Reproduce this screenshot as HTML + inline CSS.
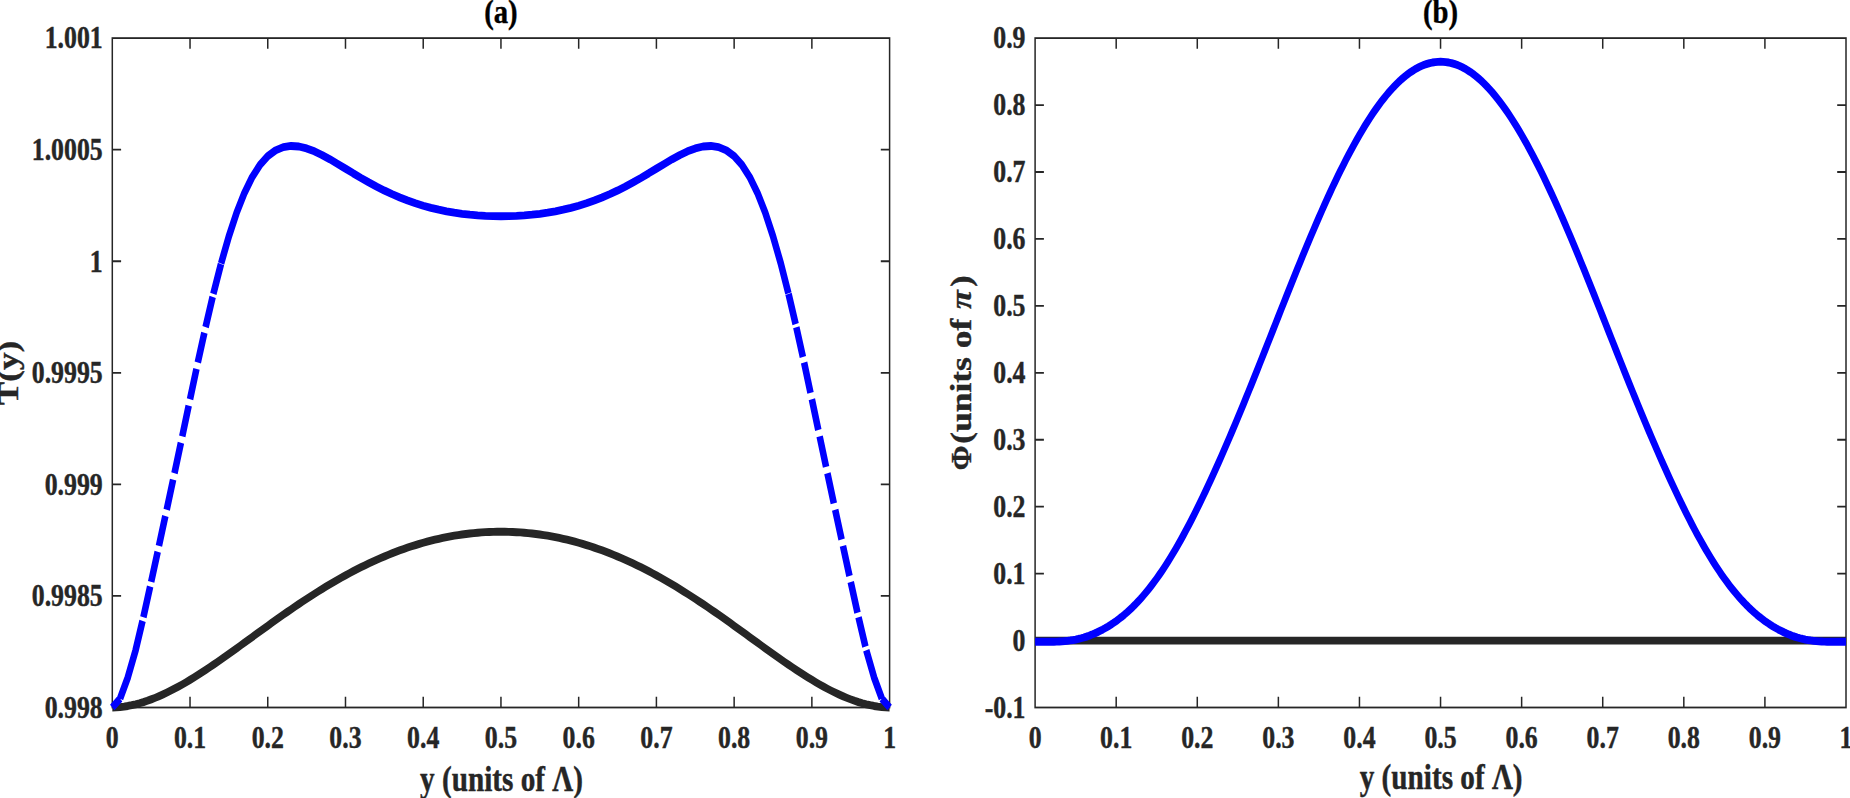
<!DOCTYPE html>
<html lang="en"><head><meta charset="utf-8"><title>Figure</title>
<style>html,body{margin:0;padding:0;background:#fff}svg{display:block}</style></head>
<body>
<svg width="1850" height="798" viewBox="0 0 1850 798" font-family='"Liberation Serif", "DejaVu Serif", serif' font-weight="bold">
<rect width="1850" height="798" fill="#fff"/>
<g transform="scale(1 1.2)">
<rect x="112.3" y="31.750" width="777.30" height="557.833" fill="none" stroke="#262626" stroke-width="1.5"/>
<text x="112.30" y="623.33" font-size="25.8" text-anchor="middle" fill="#262626" stroke="#262626" stroke-width="0.35">0</text>
<text x="190.03" y="623.33" font-size="25.8" text-anchor="middle" fill="#262626" stroke="#262626" stroke-width="0.35">0.1</text>
<text x="267.76" y="623.33" font-size="25.8" text-anchor="middle" fill="#262626" stroke="#262626" stroke-width="0.35">0.2</text>
<text x="345.49" y="623.33" font-size="25.8" text-anchor="middle" fill="#262626" stroke="#262626" stroke-width="0.35">0.3</text>
<text x="423.22" y="623.33" font-size="25.8" text-anchor="middle" fill="#262626" stroke="#262626" stroke-width="0.35">0.4</text>
<text x="500.95" y="623.33" font-size="25.8" text-anchor="middle" fill="#262626" stroke="#262626" stroke-width="0.35">0.5</text>
<text x="578.68" y="623.33" font-size="25.8" text-anchor="middle" fill="#262626" stroke="#262626" stroke-width="0.35">0.6</text>
<text x="656.41" y="623.33" font-size="25.8" text-anchor="middle" fill="#262626" stroke="#262626" stroke-width="0.35">0.7</text>
<text x="734.14" y="623.33" font-size="25.8" text-anchor="middle" fill="#262626" stroke="#262626" stroke-width="0.35">0.8</text>
<text x="811.87" y="623.33" font-size="25.8" text-anchor="middle" fill="#262626" stroke="#262626" stroke-width="0.35">0.9</text>
<text x="889.60" y="623.33" font-size="25.8" text-anchor="middle" fill="#262626" stroke="#262626" stroke-width="0.35">1</text>
<text x="102.70" y="598.17" font-size="25.8" text-anchor="end" fill="#262626" stroke="#262626" stroke-width="0.35">0.998</text>
<text x="102.70" y="505.19" font-size="25.8" text-anchor="end" fill="#262626" stroke="#262626" stroke-width="0.35">0.9985</text>
<text x="102.70" y="412.22" font-size="25.8" text-anchor="end" fill="#262626" stroke="#262626" stroke-width="0.35">0.999</text>
<text x="102.70" y="319.25" font-size="25.8" text-anchor="end" fill="#262626" stroke="#262626" stroke-width="0.35">0.9995</text>
<text x="102.70" y="226.28" font-size="25.8" text-anchor="end" fill="#262626" stroke="#262626" stroke-width="0.35">1</text>
<text x="102.70" y="133.31" font-size="25.8" text-anchor="end" fill="#262626" stroke="#262626" stroke-width="0.35">1.0005</text>
<text x="102.70" y="40.33" font-size="25.8" text-anchor="end" fill="#262626" stroke="#262626" stroke-width="0.35">1.001</text>
<path d="M190.03 589.583v-8.9M190.03 31.750v8.9M267.76 589.583v-8.9M267.76 31.750v8.9M345.49 589.583v-8.9M345.49 31.750v8.9M423.22 589.583v-8.9M423.22 31.750v8.9M500.95 589.583v-8.9M500.95 31.750v8.9M578.68 589.583v-8.9M578.68 31.750v8.9M656.41 589.583v-8.9M656.41 31.750v8.9M734.14 589.583v-8.9M734.14 31.750v8.9M811.87 589.583v-8.9M811.87 31.750v8.9M112.3 496.611h8.8M889.6 496.611h-8.8M112.3 403.639h8.8M889.6 403.639h-8.8M112.3 310.667h8.8M889.6 310.667h-8.8M112.3 217.694h8.8M889.6 217.694h-8.8M112.3 124.722h8.8M889.6 124.722h-8.8" fill="none" stroke="#262626" stroke-width="1.5"/>
<text x="500.95" y="18.75" font-size="28.7" text-anchor="middle" fill="#000" stroke="#000" stroke-width="0.35">(a)</text>
<text x="501.55" y="658.83" font-size="29.2" text-anchor="middle" fill="#262626" stroke="#262626" stroke-width="0.35">y (units of Λ)</text>
<text transform="translate(18.30 310.83) rotate(-90)" font-size="29.2" text-anchor="middle" fill="#262626" stroke="#262626" stroke-width="0.35">T(y)</text>
<path d="M112.30 589.58L116.19 589.49L120.07 589.23L123.96 588.84L127.85 588.32L131.73 587.68L135.62 586.92L139.51 586.06L143.39 585.08L147.28 584.00L151.17 582.82L155.05 581.55L158.94 580.19L162.82 578.75L166.71 577.22L170.60 575.61L174.48 573.93L178.37 572.18L182.26 570.37L186.14 568.49L190.03 566.56L193.92 564.57L197.80 562.54L201.69 560.45L205.58 558.33L209.46 556.17L213.35 553.97L217.24 551.74L221.12 549.49L225.01 547.21L228.89 544.91L232.78 542.59L236.67 540.26L240.55 537.92L244.44 535.57L248.33 533.22L252.21 530.87L256.10 528.51L259.99 526.16L263.87 523.82L267.76 521.49L271.65 519.16L275.53 516.85L279.42 514.55L283.31 512.27L287.19 510.01L291.08 507.78L294.97 505.56L298.85 503.37L302.74 501.20L306.62 499.07L310.51 496.96L314.40 494.88L318.28 492.83L322.17 490.82L326.06 488.83L329.94 486.89L333.83 484.98L337.72 483.10L341.60 481.27L345.49 479.47L349.38 477.71L353.26 475.99L357.15 474.31L361.04 472.67L364.92 471.07L368.81 469.52L372.70 468.00L376.58 466.53L380.47 465.10L384.36 463.72L388.24 462.38L392.13 461.08L396.01 459.83L399.90 458.62L403.79 457.45L407.67 456.33L411.56 455.26L415.45 454.23L419.33 453.25L423.22 452.31L427.11 451.41L430.99 450.57L434.88 449.76L438.77 449.01L442.65 448.29L446.54 447.63L450.43 447.01L454.31 446.44L458.20 445.91L462.09 445.43L465.97 444.99L469.86 444.60L473.74 444.25L477.63 443.96L481.52 443.70L485.40 443.50L489.29 443.34L493.18 443.22L497.06 443.15L500.95 443.13L504.84 443.15L508.72 443.22L512.61 443.34L516.50 443.50L520.38 443.70L524.27 443.96L528.16 444.25L532.04 444.60L535.93 444.99L539.82 445.43L543.70 445.91L547.59 446.44L551.47 447.01L555.36 447.63L559.25 448.29L563.13 449.01L567.02 449.76L570.91 450.57L574.79 451.41L578.68 452.31L582.57 453.25L586.45 454.23L590.34 455.26L594.23 456.33L598.11 457.45L602.00 458.62L605.89 459.83L609.77 461.08L613.66 462.38L617.55 463.72L621.43 465.10L625.32 466.53L629.20 468.00L633.09 469.52L636.98 471.07L640.86 472.67L644.75 474.31L648.64 475.99L652.52 477.71L656.41 479.47L660.30 481.27L664.18 483.10L668.07 484.98L671.96 486.89L675.84 488.83L679.73 490.82L683.62 492.83L687.50 494.88L691.39 496.96L695.27 499.07L699.16 501.20L703.05 503.37L706.93 505.56L710.82 507.78L714.71 510.01L718.59 512.27L722.48 514.55L726.37 516.85L730.25 519.16L734.14 521.49L738.03 523.82L741.91 526.16L745.80 528.51L749.69 530.87L753.57 533.22L757.46 535.57L761.35 537.92L765.23 540.26L769.12 542.59L773.00 544.91L776.89 547.21L780.78 549.49L784.66 551.74L788.55 553.97L792.44 556.17L796.32 558.33L800.21 560.45L804.10 562.54L807.98 564.57L811.87 566.56L815.76 568.49L819.64 570.37L823.53 572.18L827.42 573.93L831.30 575.61L835.19 577.22L839.08 578.75L842.96 580.19L846.85 581.55L850.74 582.82L854.62 584.00L858.51 585.08L862.39 586.06L866.28 586.92L870.17 587.68L874.05 588.32L877.94 588.84L881.83 589.23L885.71 589.49L889.60 589.58" fill="none" stroke="#262626" stroke-width="6.55" stroke-linejoin="round"/>
<path d="M112.30 589.58L120.07 582.24M120.07 582.24L127.85 564.42L135.62 541.81L142.54 517.37M143.39 514.37L150.16 488.72M151.17 484.90L157.69 459.71M158.94 454.90L165.34 430.07M166.71 424.78L173.13 399.69M174.48 394.39L180.92 368.93M182.26 363.63L188.70 338.00M190.03 332.69L196.46 307.42M197.80 302.12L204.37 277.19M205.58 272.63L212.64 247.42M213.35 244.90L220.97 219.98M221.12 219.50L228.89 196.83L236.67 177.21L244.44 160.77L252.21 147.54L259.99 137.40L267.76 130.11L275.53 125.31L283.31 122.60L291.08 121.63L298.85 122.08L306.62 123.67L314.40 126.12L322.17 129.23L329.94 132.77L337.72 136.59L345.49 140.52L353.26 144.46L361.04 148.30L368.81 151.99L376.58 155.48L384.36 158.76L392.13 161.80L399.90 164.59L407.67 167.13L415.45 169.41L423.22 171.44L430.99 173.22L438.77 174.77L446.54 176.10L454.31 177.23L462.09 178.16L469.86 178.91L477.63 179.49L485.40 179.90L493.18 180.14L500.95 180.22L508.72 180.14L516.50 179.90L524.27 179.49L532.04 178.91L539.82 178.16L547.59 177.23L555.36 176.10L563.13 174.77L570.91 173.22L578.68 171.44L586.45 169.41L594.23 167.13L602.00 164.59L609.77 161.80L617.55 158.76L625.32 155.48L633.09 151.99L640.86 148.30L648.64 144.46L656.41 140.52L664.18 136.59L671.96 132.77L679.73 129.23L687.50 126.12L695.27 123.67L703.05 122.08L710.82 121.63L718.59 122.60L726.37 125.31L734.14 130.11L741.91 137.40L749.69 147.54L757.46 160.77L765.23 177.21L773.00 196.83L780.78 219.50L788.40 244.42M788.55 244.90L795.62 270.11M796.32 272.63L802.90 297.56M804.10 302.12L810.52 327.39M811.87 332.69L818.31 358.33M819.64 363.63L826.08 389.09M827.42 394.39L833.83 419.48M835.19 424.78L841.60 449.60M842.96 454.90L849.49 480.09M850.74 484.90L857.50 510.54M858.51 514.37L865.43 538.81M866.28 541.81L874.05 564.42L881.83 582.24M881.83 582.24L889.60 589.58" fill="none" stroke="#0000ff" stroke-width="6.55" stroke-linejoin="bevel" stroke-linecap="butt"/>
<rect x="1035.1" y="31.750" width="810.90" height="557.833" fill="none" stroke="#262626" stroke-width="1.5"/>
<text x="1035.10" y="623.33" font-size="25.8" text-anchor="middle" fill="#262626" stroke="#262626" stroke-width="0.35">0</text>
<text x="1116.19" y="623.33" font-size="25.8" text-anchor="middle" fill="#262626" stroke="#262626" stroke-width="0.35">0.1</text>
<text x="1197.28" y="623.33" font-size="25.8" text-anchor="middle" fill="#262626" stroke="#262626" stroke-width="0.35">0.2</text>
<text x="1278.37" y="623.33" font-size="25.8" text-anchor="middle" fill="#262626" stroke="#262626" stroke-width="0.35">0.3</text>
<text x="1359.46" y="623.33" font-size="25.8" text-anchor="middle" fill="#262626" stroke="#262626" stroke-width="0.35">0.4</text>
<text x="1440.55" y="623.33" font-size="25.8" text-anchor="middle" fill="#262626" stroke="#262626" stroke-width="0.35">0.5</text>
<text x="1521.64" y="623.33" font-size="25.8" text-anchor="middle" fill="#262626" stroke="#262626" stroke-width="0.35">0.6</text>
<text x="1602.73" y="623.33" font-size="25.8" text-anchor="middle" fill="#262626" stroke="#262626" stroke-width="0.35">0.7</text>
<text x="1683.82" y="623.33" font-size="25.8" text-anchor="middle" fill="#262626" stroke="#262626" stroke-width="0.35">0.8</text>
<text x="1764.91" y="623.33" font-size="25.8" text-anchor="middle" fill="#262626" stroke="#262626" stroke-width="0.35">0.9</text>
<text x="1846.00" y="623.33" font-size="25.8" text-anchor="middle" fill="#262626" stroke="#262626" stroke-width="0.35">1</text>
<text x="1025.50" y="598.17" font-size="25.8" text-anchor="end" fill="#262626" stroke="#262626" stroke-width="0.35">-0.1</text>
<text x="1025.50" y="542.38" font-size="25.8" text-anchor="end" fill="#262626" stroke="#262626" stroke-width="0.35">0</text>
<text x="1025.50" y="486.60" font-size="25.8" text-anchor="end" fill="#262626" stroke="#262626" stroke-width="0.35">0.1</text>
<text x="1025.50" y="430.82" font-size="25.8" text-anchor="end" fill="#262626" stroke="#262626" stroke-width="0.35">0.2</text>
<text x="1025.50" y="375.03" font-size="25.8" text-anchor="end" fill="#262626" stroke="#262626" stroke-width="0.35">0.3</text>
<text x="1025.50" y="319.25" font-size="25.8" text-anchor="end" fill="#262626" stroke="#262626" stroke-width="0.35">0.4</text>
<text x="1025.50" y="263.47" font-size="25.8" text-anchor="end" fill="#262626" stroke="#262626" stroke-width="0.35">0.5</text>
<text x="1025.50" y="207.68" font-size="25.8" text-anchor="end" fill="#262626" stroke="#262626" stroke-width="0.35">0.6</text>
<text x="1025.50" y="151.90" font-size="25.8" text-anchor="end" fill="#262626" stroke="#262626" stroke-width="0.35">0.7</text>
<text x="1025.50" y="96.12" font-size="25.8" text-anchor="end" fill="#262626" stroke="#262626" stroke-width="0.35">0.8</text>
<text x="1025.50" y="40.33" font-size="25.8" text-anchor="end" fill="#262626" stroke="#262626" stroke-width="0.35">0.9</text>
<path d="M1116.19 589.583v-8.9M1116.19 31.750v8.9M1197.28 589.583v-8.9M1197.28 31.750v8.9M1278.37 589.583v-8.9M1278.37 31.750v8.9M1359.46 589.583v-8.9M1359.46 31.750v8.9M1440.55 589.583v-8.9M1440.55 31.750v8.9M1521.64 589.583v-8.9M1521.64 31.750v8.9M1602.73 589.583v-8.9M1602.73 31.750v8.9M1683.82 589.583v-8.9M1683.82 31.750v8.9M1764.91 589.583v-8.9M1764.91 31.750v8.9M1035.1 533.800h8.8M1846.0 533.800h-8.8M1035.1 478.017h8.8M1846.0 478.017h-8.8M1035.1 422.233h8.8M1846.0 422.233h-8.8M1035.1 366.450h8.8M1846.0 366.450h-8.8M1035.1 310.667h8.8M1846.0 310.667h-8.8M1035.1 254.883h8.8M1846.0 254.883h-8.8M1035.1 199.100h8.8M1846.0 199.100h-8.8M1035.1 143.317h8.8M1846.0 143.317h-8.8M1035.1 87.533h8.8M1846.0 87.533h-8.8" fill="none" stroke="#262626" stroke-width="1.5"/>
<text x="1440.55" y="18.75" font-size="28.7" text-anchor="middle" fill="#000" stroke="#000" stroke-width="0.35">(b)</text>
<text x="1441.15" y="657.33" font-size="29.2" text-anchor="middle" fill="#262626" stroke="#262626" stroke-width="0.35">y (units of Λ)</text>
<text transform="translate(971.40 391.92) rotate(-90) scale(0.85 1)" font-size="29.2" fill="#262626" stroke="#262626" stroke-width="0.35">Φ</text>
<text transform="translate(971.40 369.83) rotate(-90) scale(1.0 1)" font-size="29.5504" fill="#262626" stroke="#262626" stroke-width="0.35">(units of</text>
<text transform="translate(971.40 257.50) rotate(-90) scale(1.0 1)" font-size="28.8" fill="#262626" stroke="#262626" stroke-width="0.35" font-style="italic">π</text>
<text transform="translate(971.40 239.17) rotate(-90) scale(1.0 1)" font-size="29.2" fill="#262626" stroke="#262626" stroke-width="0.35">)</text>
<path d="M1035.1 533.800H1846.0" stroke="#262626" stroke-width="6.55" fill="none"/>
<path d="M1035.10 534.78L1037.80 534.80L1040.51 534.81L1043.21 534.82L1045.91 534.83L1048.62 534.82L1051.32 534.79L1054.02 534.75L1056.72 534.68L1059.43 534.58L1062.13 534.44L1064.83 534.25L1067.54 534.01L1070.24 533.72L1072.94 533.36L1075.64 532.94L1078.35 532.44L1081.05 531.87L1083.75 531.23L1086.46 530.51L1089.16 529.71L1091.86 528.84L1094.57 527.89L1097.27 526.87L1099.97 525.77L1102.67 524.60L1105.38 523.35L1108.08 522.02L1110.78 520.61L1113.49 519.11L1116.19 517.53L1118.89 515.86L1121.60 514.10L1124.30 512.24L1127.00 510.29L1129.70 508.24L1132.41 506.09L1135.11 503.84L1137.81 501.48L1140.52 499.03L1143.22 496.47L1145.92 493.80L1148.63 491.03L1151.33 488.15L1154.03 485.16L1156.73 482.07L1159.44 478.87L1162.14 475.57L1164.84 472.16L1167.55 468.64L1170.25 465.02L1172.95 461.30L1175.66 457.48L1178.36 453.56L1181.06 449.54L1183.76 445.43L1186.47 441.23L1189.17 436.94L1191.87 432.57L1194.58 428.11L1197.28 423.58L1199.98 418.97L1202.69 414.29L1205.39 409.54L1208.09 404.73L1210.79 399.85L1213.50 394.92L1216.20 389.92L1218.90 384.87L1221.61 379.77L1224.31 374.61L1227.01 369.41L1229.72 364.15L1232.42 358.85L1235.12 353.50L1237.82 348.11L1240.53 342.68L1243.23 337.20L1245.93 331.69L1248.64 326.15L1251.34 320.57L1254.04 314.97L1256.75 309.33L1259.45 303.68L1262.15 298.00L1264.86 292.31L1267.56 286.61L1270.26 280.90L1272.96 275.18L1275.67 269.47L1278.37 263.76L1281.07 258.05L1283.78 252.36L1286.48 246.68L1289.18 241.03L1291.88 235.39L1294.59 229.79L1297.29 224.21L1299.99 218.67L1302.70 213.17L1305.40 207.71L1308.10 202.30L1310.81 196.94L1313.51 191.62L1316.21 186.37L1318.91 181.17L1321.62 176.04L1324.32 170.97L1327.02 165.98L1329.73 161.05L1332.43 156.20L1335.13 151.43L1337.84 146.74L1340.54 142.14L1343.24 137.62L1345.94 133.19L1348.65 128.85L1351.35 124.61L1354.05 120.47L1356.76 116.43L1359.46 112.49L1362.16 108.66L1364.87 104.93L1367.57 101.31L1370.27 97.81L1372.97 94.42L1375.68 91.15L1378.38 87.99L1381.08 84.96L1383.79 82.05L1386.49 79.26L1389.19 76.59L1391.90 74.06L1394.60 71.65L1397.30 69.37L1400.00 67.22L1402.71 65.21L1405.41 63.33L1408.11 61.58L1410.82 59.97L1413.52 58.50L1416.22 57.16L1418.93 55.97L1421.63 54.91L1424.33 53.99L1427.03 53.21L1429.74 52.58L1432.44 52.08L1435.14 51.73L1437.85 51.51L1440.55 51.44L1443.25 51.51L1445.96 51.73L1448.66 52.08L1451.36 52.58L1454.07 53.21L1456.77 53.99L1459.47 54.91L1462.17 55.97L1464.88 57.16L1467.58 58.50L1470.28 59.97L1472.99 61.58L1475.69 63.33L1478.39 65.21L1481.10 67.22L1483.80 69.37L1486.50 71.65L1489.20 74.06L1491.91 76.59L1494.61 79.26L1497.31 82.05L1500.02 84.96L1502.72 87.99L1505.42 91.15L1508.12 94.42L1510.83 97.81L1513.53 101.31L1516.23 104.93L1518.94 108.66L1521.64 112.49L1524.34 116.43L1527.05 120.47L1529.75 124.61L1532.45 128.85L1535.15 133.19L1537.86 137.62L1540.56 142.14L1543.26 146.74L1545.97 151.43L1548.67 156.20L1551.37 161.05L1554.08 165.98L1556.78 170.97L1559.48 176.04L1562.18 181.17L1564.89 186.37L1567.59 191.62L1570.29 196.94L1573.00 202.30L1575.70 207.71L1578.40 213.17L1581.11 218.67L1583.81 224.21L1586.51 229.79L1589.22 235.39L1591.92 241.03L1594.62 246.68L1597.32 252.36L1600.03 258.05L1602.73 263.76L1605.43 269.47L1608.14 275.18L1610.84 280.90L1613.54 286.61L1616.24 292.31L1618.95 298.00L1621.65 303.68L1624.35 309.33L1627.06 314.97L1629.76 320.57L1632.46 326.15L1635.17 331.69L1637.87 337.20L1640.57 342.68L1643.28 348.11L1645.98 353.50L1648.68 358.85L1651.38 364.15L1654.09 369.41L1656.79 374.61L1659.49 379.77L1662.20 384.87L1664.90 389.92L1667.60 394.92L1670.31 399.85L1673.01 404.73L1675.71 409.54L1678.41 414.29L1681.12 418.97L1683.82 423.58L1686.52 428.11L1689.23 432.57L1691.93 436.94L1694.63 441.23L1697.34 445.43L1700.04 449.54L1702.74 453.56L1705.44 457.48L1708.15 461.30L1710.85 465.02L1713.55 468.64L1716.26 472.16L1718.96 475.57L1721.66 478.87L1724.37 482.07L1727.07 485.16L1729.77 488.15L1732.47 491.03L1735.18 493.80L1737.88 496.47L1740.58 499.03L1743.29 501.48L1745.99 503.84L1748.69 506.09L1751.39 508.24L1754.10 510.29L1756.80 512.24L1759.50 514.10L1762.21 515.86L1764.91 517.53L1767.61 519.11L1770.32 520.61L1773.02 522.02L1775.72 523.35L1778.43 524.60L1781.13 525.77L1783.83 526.87L1786.53 527.89L1789.24 528.84L1791.94 529.71L1794.64 530.51L1797.35 531.23L1800.05 531.87L1802.75 532.44L1805.45 532.94L1808.16 533.36L1810.86 533.72L1813.56 534.01L1816.27 534.25L1818.97 534.44L1821.67 534.58L1824.38 534.68L1827.08 534.75L1829.78 534.79L1832.49 534.82L1835.19 534.83L1837.89 534.82L1840.59 534.81L1843.30 534.80L1846.00 534.78" fill="none" stroke="#0000ff" stroke-width="6.55" stroke-linejoin="round"/>
</g>
</svg>
</body></html>
